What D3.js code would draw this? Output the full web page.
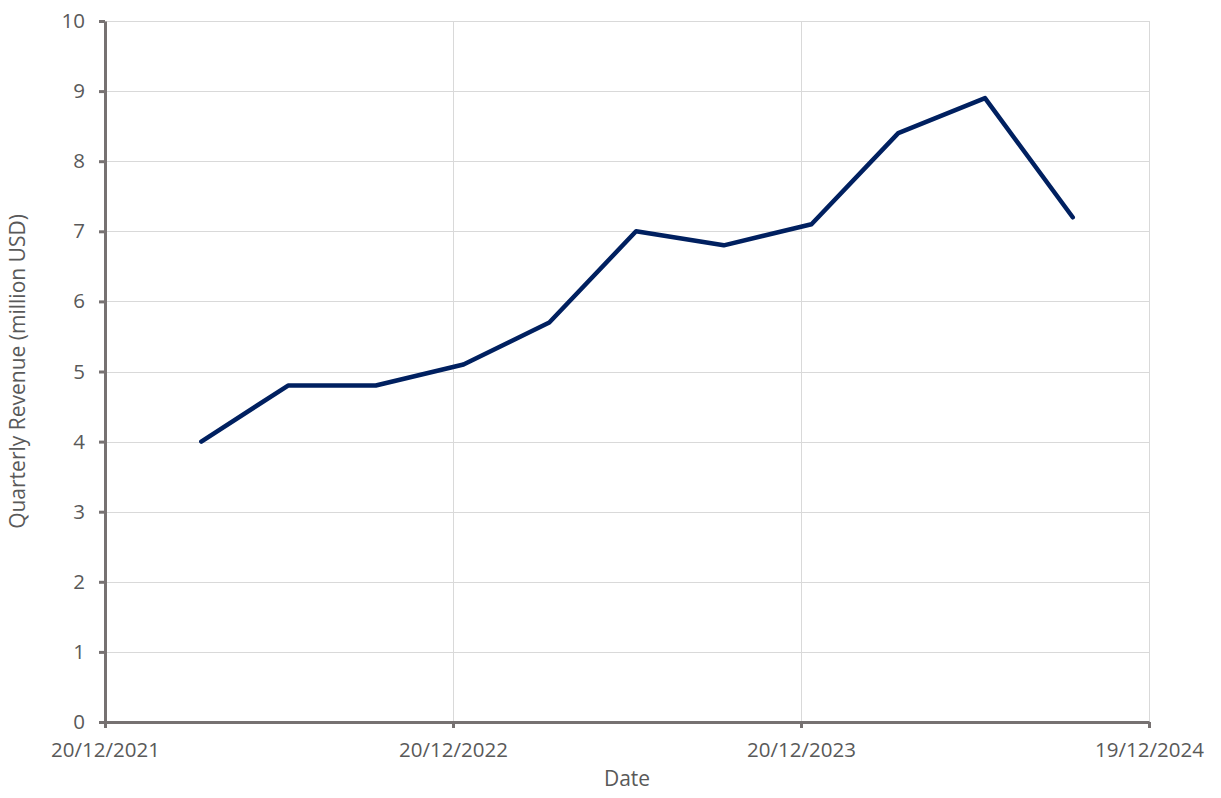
<!DOCTYPE html>
<html>
<head>
<meta charset="utf-8">
<script src="https://cdn.jsdelivr.net/npm/d3@7"></script>
<style>
  body { margin: 0; background: #fff; }
  svg text { font-family: "Open Sans", "Liberation Sans", sans-serif; fill: #595959; }
</style>
</head>
<body>
<script>
  const width = 1221;
  const height = 798;
  const marginLeft = 105;
  const marginRight = 72;
  const marginTop = 21;
  const marginBottom = 76;

  const dates = ["2022-03-31", "2022-06-30", "2022-09-30", "2022-12-31", "2023-03-31", "2023-06-30",
                 "2023-09-30", "2023-12-31", "2024-03-31", "2024-06-30", "2024-09-30"];
  const revenue = [4.0, 4.8, 4.8, 5.1, 5.7, 7.0, 6.8, 7.1, 8.4, 8.9, 7.2];
  const xTicks = ["2021-12-20", "2022-12-20", "2023-12-20", "2024-12-19"];
  const yTicks = [0, 1, 2, 3, 4, 5, 6, 7, 8, 9, 10];

  const parse = d3.utcParse("%Y-%m-%d");
  const fmt = d3.utcFormat("%d/%m/%Y");

  const svg = d3.select("body")
    .append("svg")
    .attr("width", width)
    .attr("height", height)
    .attr("viewBox", [0, 0, width, height]);

  const xScale = d3.scaleUtc([parse(xTicks[0]), parse(xTicks[xTicks.length - 1])], [marginLeft, width - marginRight]);
  const yScale = d3.scaleLinear([0, 10], [height - marginBottom, marginTop]);

  // grid
  svg.append("g")
    .attr("stroke", "#d9d9d9")
    .attr("stroke-width", 1)
    .selectAll("line.h")
    .data(yTicks.slice(1))
    .join("line")
    .attr("x1", marginLeft)
    .attr("x2", width - marginRight)
    .attr("y1", d => Math.round(yScale(d)) + 0.5)
    .attr("y2", d => Math.round(yScale(d)) + 0.5);

  svg.append("g")
    .attr("stroke", "#d9d9d9")
    .attr("stroke-width", 1)
    .selectAll("line")
    .data(xTicks.slice(1))
    .join("line")
    .attr("x1", d => Math.round(xScale(parse(d))) + 0.5)
    .attr("x2", d => Math.round(xScale(parse(d))) + 0.5)
    .attr("y1", marginTop)
    .attr("y2", height - marginBottom);

  // series
  const line = d3.line()
    .x((d, i) => xScale(parse(dates[i])))
    .y(d => yScale(d));

  svg.append("path")
    .datum(revenue)
    .attr("fill", "none")
    .attr("stroke", "#002060")
    .attr("stroke-width", 4.5)
    .attr("stroke-linejoin", "round")
    .attr("stroke-linecap", "round")
    .attr("d", line);

  // axes
  const xAxis = d3.axisBottom(xScale)
    .tickValues(xTicks.map(parse))
    .tickFormat(fmt)
    .tickSize(6)
    .tickSizeOuter(0)
    .tickPadding(14);

  const yAxis = d3.axisLeft(yScale)
    .tickValues(yTicks)
    .tickSize(6)
    .tickSizeOuter(0)
    .tickPadding(14);

  const gx = svg.append("g")
    .attr("transform", `translate(0,${height - marginBottom})`)
    .call(xAxis);

  const gy = svg.append("g")
    .attr("transform", `translate(${marginLeft},0)`)
    .call(yAxis);

  [gx, gy].forEach(g => {
    g.select(".domain").attr("stroke", "#767171").attr("stroke-width", 3);
    g.selectAll(".tick line").attr("stroke", "#767171").attr("stroke-width", 3);
    g.selectAll(".tick text").attr("font-size", 20.5).attr("fill", "#595959");
  });

  // titles
  svg.append("text")
    .attr("x", (marginLeft + width - marginRight) / 2)
    .attr("y", height - 12)
    .attr("text-anchor", "middle")
    .attr("font-size", 21)
    .text("Date");

  svg.append("text")
    .attr("transform", `translate(25,${(marginTop + height - marginBottom) / 2}) rotate(-90)`)
    .attr("text-anchor", "middle")
    .attr("font-size", 21)
    .text("Quarterly Revenue (million USD)");
</script>
</body>
</html>
